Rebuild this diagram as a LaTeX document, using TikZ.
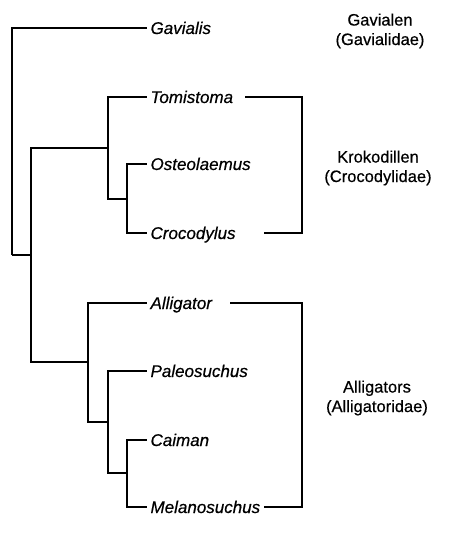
\documentclass[tikz,border=0pt]{standalone}
\usepackage{fontspec}
\setmainfont{Liberation Sans}[FakeBold=0.5]
\begin{document}
\begin{tikzpicture}[x=1pt,y=-1pt,
  leaf/.style={anchor=west,inner xsep=3pt,inner ysep=0pt,text height=12pt,text depth=0pt,font=\fontsize{17}{20}\selectfont\itshape},
  fam/.style={align=center,inner sep=0pt,font=\fontsize{16.5}{19.5}\selectfont},
  every path/.style={line width=1.1pt}]
\useasboundingbox (0,0) rectangle (450,534);
% leaves
\node[leaf] (gav) at (147,28) {Gavialis};
\node[leaf] (tom) at (147,97) {Tomistoma};
\node[leaf] (ost) at (147,164) {Osteolaemus};
\node[leaf] (cro) at (147,233) {Crocodylus};
\node[leaf] (all) at (147,303) {Alligator};
\node[leaf] (pal) at (147,371) {Paleosuchus};
\node[leaf] (cai) at (147,440) {Caiman};
\node[leaf] (mel) at (147,507) {Melanosuchus};
% internal nodes
\coordinate (root) at (12,255);
\coordinate (n1) at (31,255);
\coordinate (croc) at (108,148);
\coordinate (c2) at (127,199);
\coordinate (alg) at (88,362);
\coordinate (a2) at (108,422);
\coordinate (a3) at (127,473);
% tree
\draw (root) |- (gav.west);
\draw (root) -- (n1);
\draw (n1) |- (croc);
\draw (n1) |- (alg);
\draw (croc) |- (tom.west);
\draw (croc) |- (c2);
\draw (c2) |- (ost.west);
\draw (c2) |- (cro.west);
\draw (alg) |- (all.west);
\draw (alg) |- (a2);
\draw (a2) |- (pal.west);
\draw (a2) |- (a3);
\draw (a3) |- (cai.west);
\draw (a3) |- (mel.west);
% brackets
\coordinate (tomR) at (245,97);
\coordinate (croR) at (264,233);
\coordinate (croE) at (302,233);
\coordinate (allR) at (230,303);
\coordinate (melR) at (264,507);
\coordinate (melE) at (302,507);
\draw (tomR) -| (croE) -- (croR);
\draw (allR) -| (melE) -- (melR);
% family labels
\node[fam] (gavf) at (380,31) {Gavialen\\(Gavialidae)};
\node[fam] (crof) at (378,168) {Krokodillen\\(Crocodylidae)};
\node[fam] (allf) at (377,398) {Alligators\\(Alligatoridae)};
\end{tikzpicture}
\end{document}
